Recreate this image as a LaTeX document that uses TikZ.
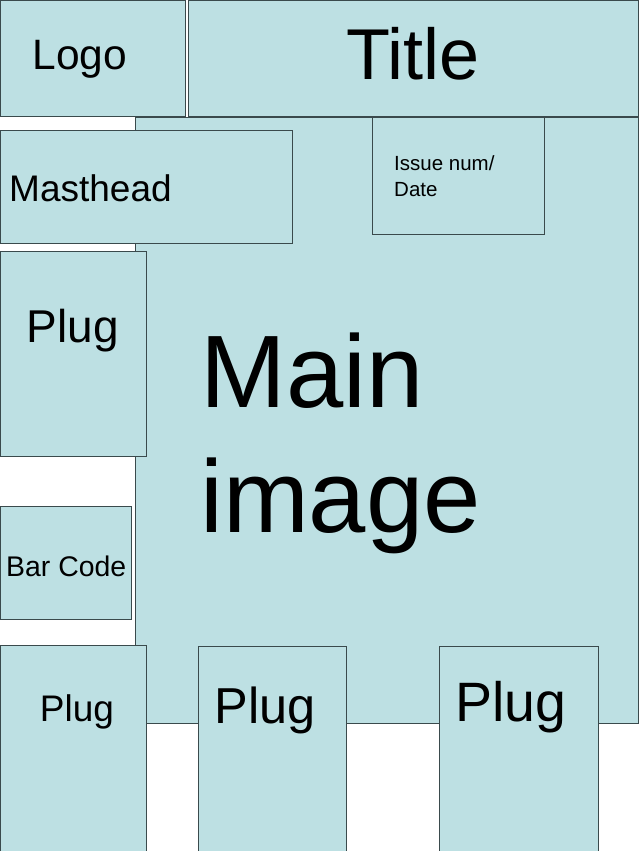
\documentclass[tikz,border=0pt]{standalone}
\usepackage{fontspec}
\setmainfont{Liberation Sans}
\definecolor{boxfill}{HTML}{BDE0E3}
\definecolor{boxline}{HTML}{3A4A4C}
\begin{document}
\begin{tikzpicture}[x=1pt,y=-1pt,
  panel/.style={fill=boxfill,draw=boxline,line width=0.8pt},
  lbl/.style={inner sep=0pt}]
\useasboundingbox (0,0) rectangle (638,851);
\path[panel] (135,117) rectangle (638,723);
\path[panel] (0,0) rectangle (185,116);
\path[panel] (188,0) rectangle (638,116);
\path[panel] (0,130) rectangle (292,243);
\path[panel] (372,117) rectangle (544,234);
\path[panel] (0,251) rectangle (146,456);
\path[panel] (0,506) rectangle (131,619);
\path[panel] (0,645) rectangle (146,851);
\path[panel] (198,646) rectangle (346,851);
\path[panel] (439,646) rectangle (598,851);
\node[lbl,font=\fontsize{42.5}{44}\selectfont] (logo) at (80,59) {Logo};
\node[lbl,font=\fontsize{72}{74}\selectfont] (title) at (413,54) {Title};
\node[lbl,anchor=west,font=\fontsize{37}{40}\selectfont] (mast) at (9,188) {Masthead};
\node[lbl,anchor=north west,align=left,font=\fontsize{20.5}{26}\selectfont] (issue) at (394,155) {Issue num/\\Date};
\node[lbl,font=\fontsize{46}{48}\selectfont] (plug1) at (73,331) {Plug};
\node[lbl,anchor=base west,font=\fontsize{103}{105}\selectfont] (main1) at (200,407) {Main};
\node[lbl,anchor=base west,font=\fontsize{103}{105}\selectfont] (main2) at (200,532) {image};
\node[lbl,anchor=west,font=\fontsize{28.4}{30}\selectfont] (bar) at (6,566) {Bar Code};
\node[lbl,font=\fontsize{37}{40}\selectfont] (plug2) at (77,712) {Plug};
\node[lbl,font=\fontsize{50.5}{52}\selectfont] (plug3) at (265,710) {Plug};
\node[lbl,font=\fontsize{55.5}{57}\selectfont] (plug4) at (511,707) {Plug};
\end{tikzpicture}
\end{document}
